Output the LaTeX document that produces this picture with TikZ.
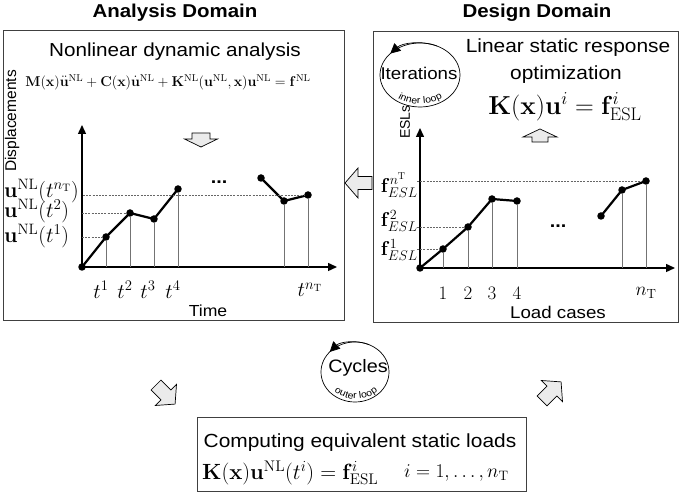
\RequirePackage{fix-cm}
\documentclass[tikz,border=0pt]{standalone}
\usepackage[no-math]{fontspec}
\setmainfont{Liberation Sans}[FakeStretch=1.1]
\newfontfamily\rotsf{Liberation Sans}
\usetikzlibrary{arrows.meta,shapes.geometric}
\newcommand{\setfs}[1]{\fontsize{#1}{#1}\selectfont}
\newcommand{\blockarr}[6]{%
  \begin{scope}[shift={(#1)}, rotate=#2]
    \draw[barrow] (0,{-#6/2}) -- ({#3-#4},{-#6/2}) -- ({#3-#4},{-#5/2}) -- (#3,0)
      -- ({#3-#4},{#5/2}) -- ({#3-#4},{#6/2}) -- (0,{#6/2}) -- cycle;
  \end{scope}}
% letters along the lower part of an ellipse: cx, cy, rx, ry, list letter/angle offset, name prefix
\newcommand{\looptext}[6]{%
  \foreach \lch/\lang [count=\k] in {#5} {%
    \pgfmathsetmacro\th{270+\lang}%
    \pgfmathsetmacro\rt{atan2(#4*cos(\th), -#3*sin(\th))}%
    \node[font=\setfs{9.5}, anchor=base, rotate=\rt] (#6\k) at ({#1+#3*cos(\th)},{#2+#4*sin(\th)}) {\lch};
  }}
\tikzset{
  every node/.style={inner sep=0pt},
  frame/.style={draw=black!75, line width=0.8pt},
  axis/.style={line width=1.4pt, -{Triangle[length=9pt,width=8pt]}},
  dataline/.style={line width=2.2pt, line join=round},
  dot/.style={circle, fill=black, minimum size=7.5pt},
  drop/.style={black!55, line width=0.6pt},
  guide/.style={black!60, line width=0.5pt, dash pattern=on 2pt off 1.2pt},
  barrow/.style={draw=black, fill=black!8, line width=0.7pt, line join=miter},
  loopline/.style={draw=black, line width=0.7pt},
  looparrow/.style={line width=0.7pt, -{Triangle[length=10pt,width=10pt]}},
}
\begin{document}
\begin{tikzpicture}[x=1pt,y=1pt]
\fill[white] (0,0) rectangle (685,502);
\useasboundingbox (0,0) rectangle (685,502);

% titles
\node[font=\setfs{18.6}\bfseries] (tl) at (175,489) {Analysis Domain};
\node[font=\setfs{18.6}\bfseries] (tr) at (537,489) {Design Domain};

% frames
\draw[frame] (3,182) rectangle (344,472);
\draw[frame] (373,180) rectangle (678,471);
\draw[frame] (197,11) rectangle (526,85);

% ---------- left box ----------
\node[font=\setfs{18.8}] (nda) at (175,450) {Nonlinear dynamic analysis};
\node[font=\setfs{14.2}] (eqL) at (168,420) {$\mathbf{M}(\mathbf{x})\ddot{\mathbf{u}}^{\mathrm{NL}} + \mathbf{C}(\mathbf{x})\dot{\mathbf{u}}^{\mathrm{NL}} + \mathbf{K}^{\mathrm{NL}}(\mathbf{u}^{\mathrm{NL}},\mathbf{x})\mathbf{u}^{\mathrm{NL}} = \mathbf{f}^{\mathrm{NL}}$};
\node[font=\rotsf\setfs{15.5}, rotate=90] (disp) at (12,381) {Displacements};

\node[dot] (lo) at (82,235) {};
\coordinate (lytop) at (82,377);
\coordinate (lxend) at (337,235);
\draw[axis] (lo.center) -- (lytop);
\draw[axis] (lo.center) -- (lxend);

\node[dot] (lp1) at (106,265) {};
\node[dot] (lp2) at (130,289) {};
\node[dot] (lp3) at (154,283) {};
\node[dot] (lp4) at (178,313) {};
\node[dot] (lq1) at (261,324) {};
\node[dot] (lq2) at (284,301) {};
\node[dot] (lq3) at (308,307) {};
\draw[dataline] (lo.center) -- (lp1.center) -- (lp2.center) -- (lp3.center) -- (lp4.center);
\draw[dataline] (lq1.center) -- (lq2.center) -- (lq3.center);
\foreach \p in {lp1,lp2,lp3,lp4,lq2,lq3} \draw[drop] (\p) -- (\p |- lo);
\draw[guide] (lo |- lp1) -- (lp1);
\draw[guide] (lo |- lp2) -- (lp2);
\draw[guide] ([xshift=1pt]lo |- lq3) -- (lq3);

\node[anchor=west, font=\setfs{21.5}] (lu1) at (4,266) {$\mathbf{u}^{\mathrm{NL}}(t^1)$};
\node[anchor=west, font=\setfs{21.5}] (lu2) at (4,291) {$\mathbf{u}^{\mathrm{NL}}(t^2)$};
\node[anchor=west, font=\setfs{21.5}] (lun) at (4,311) {$\mathbf{u}^{\mathrm{NL}}(t^{n_{\mathrm{T}}})$};

\node[font=\setfs{21}] (lt1) at (101,212) {$t^1$};
\node[font=\setfs{21}] (lt2) at (125,212) {$t^2$};
\node[font=\setfs{21}] (lt3) at (148,212) {$t^3$};
\node[font=\setfs{21}] (lt4) at (173,212) {$t^4$};
\node[font=\setfs{21}] (ltn) at (310,212) {$t^{n_{\mathrm{T}}}$};
\node[font=\setfs{16}] (time) at (208,191) {Time};
\node[font=\setfs{18}\bfseries, anchor=base] (ldots) at (219,318) {...};

\blockarr{201,369}{-90}{14}{8}{33}{18}

% ---------- right box ----------
\node[ellipse, loopline, minimum width=80pt, minimum height=64pt] (itr) at (420,427) {};
\node[font=\setfs{17}] (itrt) at (419,429) {Iterations};
\draw[looparrow] (itr.center) ++(65:40pt and 32pt) arc[start angle=65, end angle=138, x radius=40pt, y radius=32pt];
\looptext{420}{427}{37}{29}{i/-35, n/-28, n/-18.7, e/-9.5, r/-2.2, l/7.2, o/13.6, o/22.9, p/32.5}{inl}

\node[font=\setfs{19}] (lsr1) at (568,454) {Linear static response};
\node[font=\setfs{19}] (lsr2) at (566,427) {optimization};
\node[font=\setfs{26}] (eqR) at (565,395) {$\mathbf{K}(\mathbf{x})\mathbf{u}^i = \mathbf{f}^i_{\mathrm{ESL}}$};
\node[font=\rotsf\setfs{14}, rotate=90] (esls) at (405,380) {ESLs};

\node[dot] (ro) at (420,234) {};
\coordinate (rytop) at (420,374);
\coordinate (rxend) at (675,234);
\draw[axis] (ro.center) -- (rytop);
\draw[axis] (ro.center) -- (rxend);

\node[dot] (rp1) at (443,253) {};
\node[dot] (rp2) at (468,275) {};
\node[dot] (rp3) at (492,303) {};
\node[dot] (rp4) at (517,301) {};
\node[dot] (rq1) at (601,286) {};
\node[dot] (rq2) at (622,312) {};
\node[dot] (rq3) at (646,321) {};
\draw[dataline] (ro.center) -- (rp1.center) -- (rp2.center) -- (rp3.center) -- (rp4.center);
\draw[dataline] (rq1.center) -- (rq2.center) -- (rq3.center);
\foreach \p in {rp1,rp2,rp3,rp4,rq2,rq3} \draw[drop] (\p) -- (\p |- ro);
\draw[guide] ([xshift=-3pt]ro |- rp1) -- (rp1);
\draw[guide] ([xshift=-3pt]ro |- rp2) -- (rp2);
\draw[guide] ([xshift=-3pt]ro |- rq3) -- (rq3);

\node[anchor=east, font=\setfs{20}] (rf1) at (418,252) {$\mathbf{f}^1_{ESL}$};
\node[anchor=east, font=\setfs{20}] (rf2) at (418,281) {$\mathbf{f}^2_{ESL}$};
\node[anchor=east, font=\setfs{20}] (rfn) at (418,317) {$\mathbf{f}^{n^{\mathrm{T}}}_{ESL}$};

\node[font=\setfs{19}] (rt1) at (443,209) {$1$};
\node[font=\setfs{19}] (rt2) at (468,209) {$2$};
\node[font=\setfs{19}] (rt3) at (492,209) {$3$};
\node[font=\setfs{19}] (rt4) at (517,209) {$4$};
\node[font=\setfs{19}] (rtn) at (646,209) {$n_{\mathrm{T}}$};
\node[font=\setfs{17}] (lcases) at (558,190) {Load cases};
\node[font=\setfs{18}\bfseries, anchor=base] (rdots) at (558,274) {...};

\blockarr{540,360}{90}{13}{8}{34}{16}

% ---------- between / bottom ----------
\blockarr{372,319}{180}{27}{13}{30}{13}
\blockarr{156,117}{-45}{27}{13}{30}{14}
\blockarr{542,101}{45}{27}{13}{30}{14}

\node[ellipse, loopline, minimum width=68pt, minimum height=60pt] (cyc) at (355,130) {};
\node[font=\setfs{18}] (cyct) at (358,134) {Cycles};
\draw[looparrow] (cyc.center) ++(65:34pt and 30pt) arc[start angle=65, end angle=138, x radius=34pt, y radius=30pt];
\looptext{356}{130}{31}{27}{o/-39, u/-27.3, t/-19, e/-10.8, r/-2.1, l/8.6, o/16.2, o/27.3, p/39}{otl}

\node[font=\setfs{19}] (cesl) at (360,59) {Computing equivalent static loads};
\node[anchor=west, font=\setfs{22}] (beq1) at (202,29) {$\mathbf{K}(\mathbf{x})\mathbf{u}^{\mathrm{NL}}\big(t^i\big) = \mathbf{f}^i_{\mathrm{ESL}}$};
\node[anchor=east, font=\setfs{19.5}] (beq2) at (509,29) {$i = 1, \ldots, n_{\mathrm{T}}$};
\end{tikzpicture}
\end{document}
